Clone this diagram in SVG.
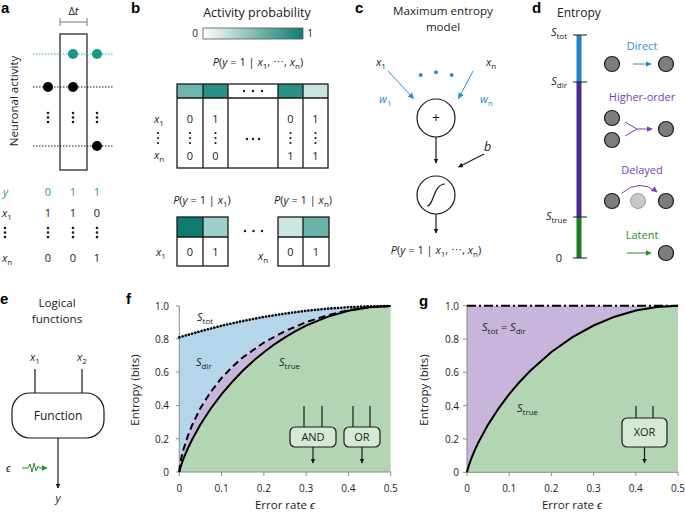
<svg xmlns="http://www.w3.org/2000/svg" width="685" height="513" viewBox="0 0 685 513">
<style>
text{font-family:"Open Sans","Liberation Sans",Arial,sans-serif;font-size:11px;fill:#1a1a1a}
.lbl{font-family:"Liberation Sans",Arial,sans-serif;font-weight:bold;font-size:15px;fill:#000}
.it{font-style:italic}
.sub{font-size:8px;font-style:normal}
.mid{text-anchor:middle}
.end{text-anchor:end}
.tick{font-size:10px}
.hd{font-size:12px}
.two{font-size:11.6px}
.teal{fill:#2a9d8f}
.ax{stroke:#8a8a8a;stroke-width:1;fill:none}
.tbl{stroke:#1a1a1a;stroke-width:1.3;fill:none}
.blk{stroke:#1a1a1a;stroke-width:1.2;fill:none}
.cir{fill:#7d7d7d;stroke:#1a1a1a;stroke-width:1.2}
.dot{fill:#1a1a1a}
</style>
<defs>
<linearGradient id="cbar" x1="0" x2="1" y1="0" y2="0"><stop offset="0" stop-color="#ffffff"/><stop offset="1" stop-color="#0e7b70"/></linearGradient>
<marker id="ak" viewBox="0 0 10 10" refX="9" refY="5" markerWidth="5" markerHeight="5" markerUnits="userSpaceOnUse" orient="auto"><path d="M0,0 L10,5 L0,10 z" fill="#1a1a1a"/></marker>
<marker id="ab" viewBox="0 0 10 10" refX="9" refY="5" markerWidth="6" markerHeight="6" markerUnits="userSpaceOnUse" orient="auto"><path d="M0,0 L10,5 L0,10 z" fill="#2a8fd0"/></marker>
<marker id="ap" viewBox="0 0 10 10" refX="9" refY="5" markerWidth="6" markerHeight="6" markerUnits="userSpaceOnUse" orient="auto"><path d="M0,0 L10,5 L0,10 z" fill="#7a3db8"/></marker>
<marker id="ag" viewBox="0 0 10 10" refX="9" refY="5" markerWidth="6" markerHeight="6" markerUnits="userSpaceOnUse" orient="auto"><path d="M0,0 L10,5 L0,10 z" fill="#2a8a2a"/></marker>
</defs>

<!-- panel labels -->
<text class="lbl" x="1" y="13">a</text>
<text class="lbl" x="131" y="13">b</text>
<text class="lbl" x="355" y="13">c</text>
<text class="lbl" x="532" y="13">d</text>
<text class="lbl" x="0" y="304">e</text>
<text class="lbl" x="126" y="304">f</text>
<text class="lbl" x="419" y="306">g</text>

<!-- ===== panel a ===== -->
<g id="panel-a">
<text x="73.5" y="15" class="mid">Δ<tspan class="it">t</tspan></text>
<path d="M60,18 V26 M60,22 H87 M87,18 V26" stroke="#777" stroke-width="1" fill="none"/>
<rect x="60" y="34" width="27" height="136" class="blk"/>
<line x1="33" y1="54" x2="113" y2="54" stroke="#3aa99a" stroke-width="1" stroke-dasharray="1.5 1.5"/>
<line x1="33" y1="87" x2="113" y2="87" stroke="#1a1a1a" stroke-width="1" stroke-dasharray="1.5 1.5"/>
<line x1="33" y1="146" x2="113" y2="146" stroke="#1a1a1a" stroke-width="1" stroke-dasharray="1.5 1.5"/>
<circle cx="73" cy="54" r="5" fill="#17968a"/>
<circle cx="97" cy="54" r="5" fill="#17968a"/>
<circle cx="48" cy="87" r="5" fill="#000"/>
<circle cx="73" cy="87" r="5" fill="#000"/>
<circle cx="97" cy="146" r="5" fill="#000"/>
<g class="dot">
<circle cx="48" cy="113" r="1.3"/><circle cx="48" cy="117.5" r="1.3"/><circle cx="48" cy="122" r="1.3"/>
<circle cx="73" cy="113" r="1.3"/><circle cx="73" cy="117.5" r="1.3"/><circle cx="73" cy="122" r="1.3"/>
<circle cx="97" cy="113" r="1.3"/><circle cx="97" cy="117.5" r="1.3"/><circle cx="97" cy="122" r="1.3"/>
<circle cx="5" cy="228" r="1.3"/><circle cx="5" cy="232.5" r="1.3"/><circle cx="5" cy="237" r="1.3"/>
<circle cx="48" cy="228" r="1.3"/><circle cx="48" cy="232.5" r="1.3"/><circle cx="48" cy="237" r="1.3"/>
<circle cx="73" cy="228" r="1.3"/><circle cx="73" cy="232.5" r="1.3"/><circle cx="73" cy="237" r="1.3"/>
<circle cx="97" cy="228" r="1.3"/><circle cx="97" cy="232.5" r="1.3"/><circle cx="97" cy="237" r="1.3"/>
</g>
<text transform="translate(18,101) rotate(-90)" class="mid" style="font-size:11.5px">Neuronal activity</text>
<text x="3" y="196" class="it teal">y</text>
<text x="48" y="196" class="mid teal">0</text><text x="73" y="196" class="mid teal">1</text><text x="97" y="196" class="mid teal">1</text>
<text x="2" y="217" class="it">x<tspan class="sub" dy="3">1</tspan></text>
<text x="48" y="217" class="mid">1</text><text x="73" y="217" class="mid">1</text><text x="97" y="217" class="mid">0</text>
<text x="2" y="262" class="it">x<tspan class="sub it" dy="3">n</tspan></text>
<text x="48" y="262" class="mid">0</text><text x="73" y="262" class="mid">0</text><text x="97" y="262" class="mid">1</text>
</g>

<!-- ===== panel b ===== -->
<g id="panel-b">
<text x="257" y="17" class="mid" style="font-size:12.5px">Activity probability</text>
<rect x="203" y="28" width="100" height="11" fill="url(#cbar)" stroke="#555" stroke-width="0.8"/>
<text x="195" y="37" class="mid tick">0</text>
<text x="310" y="37" class="mid tick">1</text>
<text x="258" y="66" class="mid"><tspan class="it">P</tspan>(<tspan class="it">y</tspan> = 1 | <tspan class="it">x</tspan><tspan class="sub" dy="3">1</tspan><tspan dy="-3">, ⋯, </tspan><tspan class="it">x</tspan><tspan class="sub it" dy="3">n</tspan><tspan dy="-3">)</tspan></text>
<rect x="177" y="84" width="26" height="14" fill="#6fb5ad"/>
<rect x="203" y="84" width="25" height="14" fill="#2a8f85"/>
<rect x="278" y="84" width="25" height="14" fill="#2a8f85"/>
<rect x="303" y="84" width="25" height="14" fill="#c8e3e0"/>
<rect x="177" y="84" width="151" height="84" class="tbl"/>
<path d="M177,98 H328 M203,84 V168 M228,84 V168 M278,84 V168 M303,84 V168" class="tbl"/>
<g class="dot">
<circle cx="244" cy="91" r="1.2"/><circle cx="253" cy="91" r="1.2"/><circle cx="262" cy="91" r="1.2"/>
<circle cx="247" cy="139" r="1.2"/><circle cx="253" cy="139" r="1.2"/><circle cx="259" cy="139" r="1.2"/>
<circle cx="158" cy="133" r="1.1"/><circle cx="158" cy="138" r="1.1"/><circle cx="158" cy="143" r="1.1"/>
<circle cx="190" cy="133" r="1.1"/><circle cx="190" cy="138" r="1.1"/><circle cx="190" cy="143" r="1.1"/>
<circle cx="215.5" cy="133" r="1.1"/><circle cx="215.5" cy="138" r="1.1"/><circle cx="215.5" cy="143" r="1.1"/>
<circle cx="290.5" cy="133" r="1.1"/><circle cx="290.5" cy="138" r="1.1"/><circle cx="290.5" cy="143" r="1.1"/>
<circle cx="315.5" cy="133" r="1.1"/><circle cx="315.5" cy="138" r="1.1"/><circle cx="315.5" cy="143" r="1.1"/>
<circle cx="245" cy="231" r="1.2"/><circle cx="253.5" cy="231" r="1.2"/><circle cx="262" cy="231" r="1.2"/>
</g>
<text x="154" y="123" class="it">x<tspan class="sub" dy="3">1</tspan></text>
<text x="154" y="159" class="it">x<tspan class="sub it" dy="3">n</tspan></text>
<text x="190" y="123" class="mid">0</text><text x="215.5" y="123" class="mid">1</text><text x="290.5" y="123" class="mid">0</text><text x="315.5" y="123" class="mid">1</text>
<text x="190" y="160" class="mid">0</text><text x="215.5" y="160" class="mid">0</text><text x="290.5" y="160" class="mid">1</text><text x="315.5" y="160" class="mid">1</text>
<text x="202" y="204" class="mid"><tspan class="it">P</tspan>(<tspan class="it">y</tspan> = 1 | <tspan class="it">x</tspan><tspan class="sub" dy="3">1</tspan><tspan dy="-3">)</tspan></text>
<text x="303" y="204" class="mid"><tspan class="it">P</tspan>(<tspan class="it">y</tspan> = 1 | <tspan class="it">x</tspan><tspan class="sub it" dy="3">n</tspan><tspan dy="-3">)</tspan></text>
<rect x="177" y="217" width="26" height="20" fill="#0d7b70"/>
<rect x="203" y="217" width="25" height="20" fill="#9ccfc9"/>
<rect x="177" y="217" width="51" height="49" class="tbl"/>
<path d="M177,237 H228 M203,217 V266" class="tbl"/>
<rect x="278" y="217" width="25" height="20" fill="#cde6e3"/>
<rect x="303" y="217" width="26" height="20" fill="#6ab3ab"/>
<rect x="278" y="217" width="51" height="49" class="tbl"/>
<path d="M278,237 H329 M303,217 V266" class="tbl"/>
<text x="190" y="256" class="mid">0</text><text x="215.5" y="256" class="mid">1</text>
<text x="290.5" y="256" class="mid">0</text><text x="316" y="256" class="mid">1</text>
<text x="156" y="256" class="it">x<tspan class="sub" dy="3">1</tspan></text>
<text x="258" y="260" class="it">x<tspan class="sub it" dy="3">n</tspan></text>
</g>

<!-- ===== panel c ===== -->
<g id="panel-c">
<text x="443" y="15" class="mid two">Maximum entropy</text>
<text x="443" y="31" class="mid two">model</text>
<text x="376" y="66" class="it">x<tspan class="sub" dy="3">1</tspan></text>
<text x="486" y="66" class="it">x<tspan class="sub it" dy="3">n</tspan></text>
<circle cx="420.7" cy="75" r="2" fill="#2a8fd0"/><circle cx="436" cy="72.3" r="2" fill="#2a8fd0"/><circle cx="451.7" cy="75" r="2" fill="#2a8fd0"/>
<line x1="388" y1="71" x2="413.5" y2="98.5" stroke="#2a8fd0" stroke-width="1" marker-end="url(#ab)"/>
<line x1="473" y1="71" x2="458.5" y2="98.5" stroke="#2a8fd0" stroke-width="1" marker-end="url(#ab)"/>
<text x="379" y="103" style="fill:#2a8fd0" class="it">w<tspan class="sub" dy="3">1</tspan></text>
<text x="480" y="103" style="fill:#2a8fd0" class="it">w<tspan class="sub it" dy="3">n</tspan></text>
<circle cx="436" cy="118" r="19" class="blk"/>
<text x="436" y="123" class="mid" style="font-size:14px">+</text>
<line x1="436" y1="137" x2="436" y2="163" class="blk" marker-end="url(#ak)"/>
<text x="484" y="151" class="it" style="font-size:12.5px">b</text>
<line x1="484" y1="154" x2="458.5" y2="167" class="blk" marker-end="url(#ak)"/>
<circle cx="436" cy="195" r="19" class="blk"/>
<path d="M427,206 C434,206 433,184 445,184" class="blk"/>
<line x1="436" y1="214" x2="436" y2="233" class="blk" marker-end="url(#ak)"/>
<text x="436" y="254" class="mid"><tspan class="it">P</tspan>(<tspan class="it">y</tspan> = 1 | <tspan class="it">x</tspan><tspan class="sub" dy="3">1</tspan><tspan dy="-3">, ⋯, </tspan><tspan class="it">x</tspan><tspan class="sub it" dy="3">n</tspan><tspan dy="-3">)</tspan></text>
</g>

<!-- ===== panel d ===== -->
<g id="panel-d">
<text x="557" y="17" class="hd">Entropy</text>
<rect x="576.5" y="35" width="5" height="47" fill="#2284c6"/>
<rect x="576.5" y="82" width="5" height="135" fill="#4a2a97"/>
<rect x="576.5" y="217" width="5" height="41" fill="#1e7d22"/>
<path d="M573,35 H587 M573,82 H587 M573,217 H587 M573,258 H587" class="blk"/>
<text x="567" y="36" class="end it">S<tspan class="sub" dy="3">tot</tspan></text>
<text x="567" y="85" class="end it">S<tspan class="sub" dy="3">dir</tspan></text>
<text x="567" y="220" class="end it">S<tspan class="sub" dy="3">true</tspan></text>
<text x="562" y="262" class="end">0</text>
<g id="direct">
<text x="642" y="50" class="mid" style="fill:#2a8fd0">Direct</text>
<circle cx="612" cy="64" r="7.5" class="cir"/><circle cx="666" cy="64" r="7.5" class="cir"/>
<line x1="633" y1="64" x2="651" y2="64" stroke="#2a8fd0" stroke-width="1" marker-end="url(#ab)"/>
</g>
<g id="higher-order">
<text x="642" y="101" class="mid" style="fill:#7a3db8">Higher-order</text>
<circle cx="612" cy="118" r="7.5" class="cir"/><circle cx="612" cy="140" r="7.5" class="cir"/><circle cx="666" cy="129" r="7.5" class="cir"/>
<path d="M625,122 L637,129 L625,136 M637,129 H652" stroke="#7a3db8" stroke-width="1" fill="none" marker-end="url(#ap)"/>
</g>
<g id="delayed">
<text x="642" y="174" class="mid" style="fill:#7a3db8">Delayed</text>
<circle cx="612" cy="201" r="7.5" class="cir"/>
<circle cx="638" cy="201" r="7.5" fill="#c8c8c8" stroke="#999" stroke-width="1"/>
<circle cx="666" cy="201" r="7.5" class="cir"/>
<path d="M621.5,193.5 Q639,178 657,192" stroke="#7a3db8" stroke-width="1" fill="none" marker-end="url(#ap)"/>
</g>
<g id="latent">
<text x="642" y="239" class="mid" style="fill:#2a8a2a">Latent</text>
<line x1="627" y1="253" x2="651" y2="253" stroke="#2a8a2a" stroke-width="1" marker-end="url(#ag)"/>
<circle cx="666" cy="253" r="7.5" class="cir"/>
</g>
</g>

<!-- ===== panel e ===== -->
<g id="panel-e">
<text x="57" y="307" class="mid two">Logical</text>
<text x="57" y="323" class="mid two">functions</text>
<text x="30" y="361" class="it">x<tspan class="sub" dy="3">1</tspan></text>
<text x="77" y="361" class="it">x<tspan class="sub" dy="3">2</tspan></text>
<path d="M35,369 V393 M82,369 V393" class="blk"/>
<rect x="12" y="393" width="92" height="45" rx="18" class="blk"/>
<text x="58" y="420" class="mid hd">Function</text>
<line x1="58" y1="438" x2="58" y2="488" class="blk" marker-end="url(#ak)"/>
<text x="58" y="502" class="mid it">y</text>
<text x="6" y="472" class="it">ϵ</text>
<path d="M22,468 H28 L30,464 L32,472 L34,463 L36,471 L38,466 L40,468 H47" stroke="#2a8a2a" stroke-width="1" fill="none" marker-end="url(#ag)"/>
</g>

<!-- ===== panel f ===== -->
<g id="panel-f">
<path d="M179.3,472 L179.7,470.1 181.4,464.5 183.5,458.6 187.8,448.5 192.0,439.7 200.4,424.5 211.0,408.2 221.6,394.1 232.2,381.8 242.7,370.8 253.3,360.9 263.9,352.2 274.4,344.3 285.0,337.3 295.6,331.2 306.1,325.7 327.3,316.9 348.4,310.8 369.6,307.2 390.7,306 L390.7,472 Z" fill="#b3d5b3"/>
<path d="M179.3,472 L179.7,467.0 181.4,457.6 183.5,449.2 187.8,436.1 192.0,425.4 200.4,408.2 211.0,391.5 221.6,378.0 232.2,366.9 242.7,357.5 263.9,342.5 285.0,331.1 306.1,322.2 327.3,315.3 348.4,310.3 369.6,307.1 390.7,306 L369.6,307.2 348.4,310.8 327.3,316.9 306.1,325.7 295.6,331.2 285.0,337.3 274.4,344.3 263.9,352.2 253.3,360.9 242.7,370.8 232.2,381.8 221.6,394.1 211.0,408.2 200.4,424.5 192.0,439.7 187.8,448.5 183.5,458.6 181.4,464.5 179.7,470.1 Z" fill="#c8b5dc"/>
<path d="M179.3,337.3 L200.4,331.2 221.6,325.7 242.7,321.0 263.9,316.9 285.0,313.6 306.1,310.8 327.3,308.7 348.4,307.2 369.6,306.3 390.7,306 L369.6,307.1 348.4,310.3 327.3,315.3 306.1,322.2 285.0,331.1 263.9,342.5 242.7,357.5 232.2,366.9 221.6,378.0 211.0,391.5 200.4,408.2 192.0,425.4 187.8,436.1 183.5,449.2 181.4,457.6 179.7,467.0 179.3,472 Z" fill="#b5d5ea"/>
<path d="M179.3,306 V472 H390.7 M176,306 H179.3 M176,338.8 H179.3 M176,372.0 H179.3 M176,405.6 H179.3 M176,438.8 H179.3 M176,472 H179.3 M179.3,472 V476 M221.6,472 V476 M263.9,472 V476 M306.1,472 V476 M348.4,472 V476 M390.7,472 V476" class="ax"/>
<path d="M179.3,472 L179.7,467.0 181.4,457.6 183.5,449.2 187.8,436.1 192.0,425.4 200.4,408.2 211.0,391.5 221.6,378.0 232.2,366.9 242.7,357.5 263.9,342.5 285.0,331.1 306.1,322.2 327.3,315.3 348.4,310.3 369.6,307.1 390.7,306" fill="none" stroke="#000" stroke-width="2" stroke-dasharray="7 4"/>
<path d="M179.3,337.3 L200.4,331.2 221.6,325.7 242.7,321.0 263.9,316.9 285.0,313.6 306.1,310.8 327.3,308.7 348.4,307.2 369.6,306.3 390.7,306" fill="none" stroke="#000" stroke-width="2.6" stroke-dasharray="0.1 3.2" stroke-linecap="round"/>
<path d="M179.3,472 L179.7,470.1 181.4,464.5 183.5,458.6 187.8,448.5 192.0,439.7 200.4,424.5 211.0,408.2 221.6,394.1 232.2,381.8 242.7,370.8 253.3,360.9 263.9,352.2 274.4,344.3 285.0,337.3 295.6,331.2 306.1,325.7 327.3,316.9 348.4,310.8 369.6,307.2 390.7,306" fill="none" stroke="#000" stroke-width="2"/>
<text x="169" y="309.5" class="end tick">1.0</text>
<text x="169" y="342.5" class="end tick">0.8</text>
<text x="169" y="375.5" class="end tick">0.6</text>
<text x="169" y="409" class="end tick">0.4</text>
<text x="169" y="442.5" class="end tick">0.2</text>
<text x="169" y="475.5" class="end tick">0</text>
<text x="179.3" y="492" class="mid tick">0</text>
<text x="221.6" y="492" class="mid tick">0.1</text>
<text x="263.9" y="492" class="mid tick">0.2</text>
<text x="306.1" y="492" class="mid tick">0.3</text>
<text x="348.4" y="492" class="mid tick">0.4</text>
<text x="390.7" y="492" class="mid tick">0.5</text>
<text x="285" y="509" class="mid" style="font-size:11.5px">Error rate <tspan class="it">ϵ</tspan></text>
<text transform="translate(139,390) rotate(-90)" class="mid" style="font-size:11.5px">Entropy (bits)</text>
<text x="197" y="321" class="it">S<tspan class="sub" dy="3">tot</tspan></text>
<text x="196" y="366" class="it">S<tspan class="sub" dy="3">dir</tspan></text>
<text x="279" y="366" class="it">S<tspan class="sub" dy="3">true</tspan></text>
<g id="and-gate">
<path d="M304,406 V427 M322,406 V427" class="blk"/>
<rect x="290" y="427" width="46" height="20" rx="5" fill="#d5ead5" stroke="#1a1a1a" stroke-width="1.2"/>
<text x="313" y="441" class="mid">AND</text>
<line x1="313" y1="447" x2="313" y2="463" class="blk" marker-end="url(#ak)"/>
</g>
<g id="or-gate">
<path d="M353,406 V427 M370,406 V427" class="blk"/>
<rect x="344" y="427" width="36" height="20" rx="5" fill="#d5ead5" stroke="#1a1a1a" stroke-width="1.2"/>
<text x="362" y="441" class="mid">OR</text>
<line x1="362" y1="447" x2="362" y2="463" class="blk" marker-end="url(#ak)"/>
</g>
</g>

<!-- ===== panel g ===== -->
<g id="panel-g">
<path d="M467,472.3 L467.4,470.4 469.1,464.7 471.2,458.8 475.4,448.7 479.7,439.9 488.1,424.6 498.7,408.3 509.2,394.2 519.8,381.7 530.3,370.7 551.4,352.0 572.5,337.1 593.6,325.5 614.7,316.7 635.8,310.5 656.9,306.9 678,305.7 V472.3 Z" fill="#b3d5b3"/>
<path d="M467,305.7 H678 L656.9,306.9 635.8,310.5 614.7,316.7 593.6,325.5 572.5,337.1 551.4,352.0 530.3,370.7 519.8,381.7 509.2,394.2 498.7,408.3 488.1,424.6 479.7,439.9 475.4,448.7 471.2,458.8 469.1,464.7 467.4,470.4 467,472.3 Z" fill="#c8b5dc"/>
<path d="M467,305.7 V472.3 H678 M463,305.7 H467 M463,339.0 H467 M463,372.3 H467 M463,405.7 H467 M463,439.0 H467 M463,472.3 H467 M467,472.3 V476 M509.2,472.3 V476 M551.4,472.3 V476 M593.6,472.3 V476 M635.8,472.3 V476 M678,472.3 V476" class="ax"/>
<line x1="467" y1="305.7" x2="678" y2="305.7" stroke="#000" stroke-width="2" stroke-dasharray="9 3 2 3"/>
<path d="M467,472.3 L467.4,470.4 469.1,464.7 471.2,458.8 475.4,448.7 479.7,439.9 488.1,424.6 498.7,408.3 509.2,394.2 519.8,381.7 530.3,370.7 551.4,352.0 572.5,337.1 593.6,325.5 614.7,316.7 635.8,310.5 656.9,306.9 678,305.7" fill="none" stroke="#000" stroke-width="2"/>
<text x="459" y="309.5" class="end tick">1.0</text>
<text x="459" y="343" class="end tick">0.8</text>
<text x="459" y="376" class="end tick">0.6</text>
<text x="459" y="409.5" class="end tick">0.4</text>
<text x="459" y="443" class="end tick">0.2</text>
<text x="459" y="476" class="end tick">0</text>
<text x="467" y="492" class="mid tick">0</text>
<text x="509.2" y="492" class="mid tick">0.1</text>
<text x="551.4" y="492" class="mid tick">0.2</text>
<text x="593.6" y="492" class="mid tick">0.3</text>
<text x="635.8" y="492" class="mid tick">0.4</text>
<text x="678" y="492" class="mid tick">0.5</text>
<text x="572" y="509" class="mid" style="font-size:11.5px">Error rate <tspan class="it">ϵ</tspan></text>
<text transform="translate(428,390) rotate(-90)" class="mid" style="font-size:11.5px">Entropy (bits)</text>
<text x="482" y="331" class="it">S<tspan class="sub" dy="3">tot</tspan><tspan style="font-style:normal" dy="-3"> = </tspan>S<tspan class="sub" dy="3">dir</tspan></text>
<text x="517" y="412" class="it">S<tspan class="sub" dy="3">true</tspan></text>
<g id="xor-gate">
<path d="M636,406 V418 M653,406 V418" class="blk"/>
<rect x="622" y="418" width="45" height="29" rx="5" fill="#d5ead5" stroke="#1a1a1a" stroke-width="1.2"/>
<text x="644.5" y="436" class="mid">XOR</text>
<line x1="644.5" y1="447" x2="644.5" y2="463" class="blk" marker-end="url(#ak)"/>
</g>
</g>
</svg>
